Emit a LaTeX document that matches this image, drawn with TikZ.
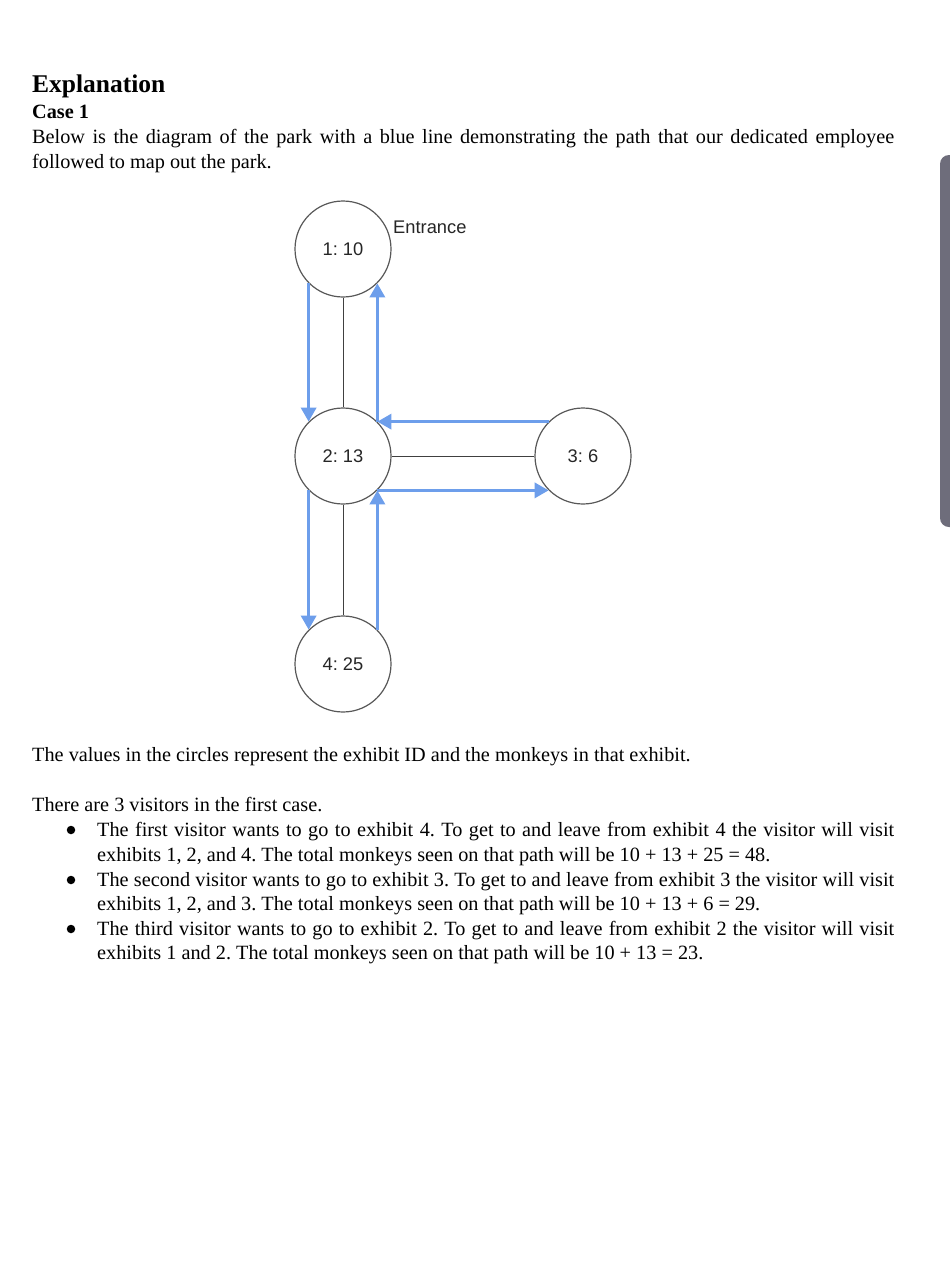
\documentclass[tikz,border=0pt]{standalone}
\usepackage{fontspec}
\setmainfont{Liberation Serif}
\newfontfamily\arialf{Liberation Sans}
\usetikzlibrary{arrows.meta}
\definecolor{pathblue}{HTML}{6D9EEB}
\definecolor{ringgray}{HTML}{585858}
\definecolor{bargray}{HTML}{6E6D7B}
\frenchspacing
\begin{document}
\begin{tikzpicture}[x=1pt,y=-1pt,
  exhibit/.style={circle, draw=ringgray, line width=1.2pt, minimum size=96pt, inner sep=0pt,
    font=\arialf\fontsize{18.3}{20}\selectfont, text=black!85},
  link/.style={draw=black!75, line width=1pt},
  walk/.style={draw=pathblue, line width=3.2pt, -{Triangle[length=14pt,width=15pt]}},
  body/.style={anchor=base west, inner sep=0pt, font=\fontsize{20.25}{24}\selectfont},
  dot/.style={circle, fill=black, inner sep=0pt, minimum size=8.5pt}
]
\useasboundingbox[fill=white] (0,0) rectangle (950,1280);

% scrollbar at right edge
\fill[bargray, rounded corners=9pt] (940,155) rectangle (964,527);

% heading and text
\node[body, font=\bfseries\fontsize{25.5}{30}\selectfont] (title) at (32,92) {Explanation};
\node[body, font=\bfseries\fontsize{20.25}{24}\selectfont] (case) at (32,118) {Case 1};
\node[body] (l1) at (32,143) {\makebox[862pt][s]{Below is the diagram of the park with a blue line demonstrating the path that our dedicated employee}};
\node[body] (l2) at (32,168) {followed to map out the park.};

% diagram
\node[exhibit] (c1) at (343,249) {1: 10};
\node[exhibit] (c2) at (343,456) {2: 13};
\node[exhibit] (c3) at (583,456) {3: 6};
\node[exhibit] (c4) at (343,664) {4: 25};
\node[anchor=base west, inner sep=0pt, font=\arialf\fontsize{18.3}{20}\selectfont, text=black!85] (ent) at (393,233) {Entrance};

\draw[link] (c1) -- (c2);
\draw[link] (c2) -- (c3);
\draw[link] (c2) -- (c4);

\draw[walk] (c1.225) -- (c2.135);
\draw[walk] (c2.45) -- (c1.315);
\draw[walk] (c3.135) -- (c2.45);
\draw[walk] (c2.315) -- (c3.225);
\draw[walk] (c2.225) -- (c4.135);
\draw[walk] (c4.45) -- (c2.315);

% explanation text
\node[body] (v1) at (32,761) {The values in the circles represent the exhibit ID and the monkeys in that exhibit.};
\node[body] (v2) at (32,811) {There are 3 visitors in the first case.};

\node[dot] (b1) at (71,830) {};
\node[dot] (b2) at (71,880) {};
\node[dot] (b3) at (71,929) {};

\node[body] (p1) at (97,836) {\makebox[797pt][s]{The first visitor wants to go to exhibit 4. To get to and leave from exhibit 4 the visitor will visit}};
\node[body] (p2) at (97,861) {exhibits 1, 2, and 4. The total monkeys seen on that path will be 10 + 13 + 25 = 48.};
\node[body] (p3) at (97,886) {\makebox[797pt][s]{The second visitor wants to go to exhibit 3. To get to and leave from exhibit 3 the visitor will visit}};
\node[body] (p4) at (97,910) {exhibits 1, 2, and 3. The total monkeys seen on that path will be 10 + 13 + 6 = 29.};
\node[body] (p5) at (97,935) {\makebox[797pt][s]{The third visitor wants to go to exhibit 2. To get to and leave from exhibit 2 the visitor will visit}};
\node[body] (p6) at (97,959) {exhibits 1 and 2. The total monkeys seen on that path will be 10 + 13 = 23.};
\end{tikzpicture}
\end{document}
